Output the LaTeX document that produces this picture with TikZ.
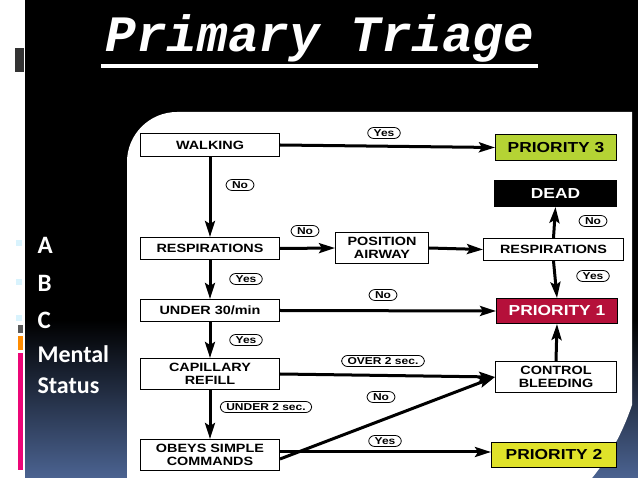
\documentclass[tikz,border=0pt]{standalone}
\usepackage{fontspec}
\setmainfont{Liberation Sans}
\newfontfamily\boxf{Liberation Sans}[FakeStretch=1.2]
\newfontfamily\titlef{Liberation Mono}
\newfontfamily\sidef{Carlito}
\usetikzlibrary{arrows.meta}
\definecolor{pgreen}{HTML}{B5D334}
\definecolor{pred}{HTML}{B5103A}
\definecolor{pyel}{HTML}{E0E22A}
\definecolor{bgblue}{HTML}{4B6391}
\begin{document}
\begin{tikzpicture}[x=1pt,y=-1pt,
  bx/.style={draw=black,line width=1pt,fill=white,font=\boxf\bfseries\fontsize{12}{12.5}\selectfont,align=center,inner sep=0pt,anchor=north west},
  pb/.style={bx,font=\boxf\bfseries\fontsize{14.5}{15}\selectfont},
  lab/.style={draw=black,line width=0.8pt,rounded corners=6pt,fill=white,font=\boxf\bfseries\fontsize{10}{10}\selectfont,inner xsep=6pt,inner ysep=2pt},
  arr/.style={line width=3pt,-{Stealth[length=16pt,width=10pt,inset=3pt]}}]
\useasboundingbox (0,0) rectangle (638,478);
\fill[white] (0,0) rectangle (638,478);
\fill[black] (25,0) rectangle (638,478);
\shade[top color=black,bottom color=bgblue] (25,320) rectangle (638,478);
% left strip decorations
\fill[black!80] (15,48) rectangle (24,72);
\foreach \yy in {243,282,318}{\fill[cyan!15] (16,\yy-3) rectangle (22,\yy+3);}
\fill[gray!70!black] (18,325) rectangle (23,333);
\fill[orange!90!yellow] (18,336) rectangle (23,350);
\fill[magenta!80!red] (18,353) rectangle (23,470);
% panel
\fill[white] (127,478) [rounded corners=50pt] -- (127,112) [sharp corners] -- (632,112) -- (632,405) .. controls (620,440) and (605,462) .. (592,478) -- cycle;
% title
\node[text=white,font=\titlef\bfseries\itshape\fontsize{51}{54}\selectfont] (title) at (320,38) {Primary Triage};
\fill[white] (101,64) rectangle (538,68);
% side text
\foreach \t/\yy/\n in {A/245/sa,B/283/sb,C/320/sc}{\node[text=white,anchor=west,font=\sidef\bfseries\fontsize{25}{26}\selectfont] (\n) at (34,\yy) {\t};}
\node[text=white,anchor=north west,align=left,font=\sidef\bfseries\fontsize{24}{31}\selectfont] (sm) at (34,342) {Mental\\Status};
% boxes
\node[bx,minimum width=139pt,minimum height=23pt] (walk) at (140,133) {WALKING};
\node[pb,fill=pgreen,minimum width=121pt,minimum height=26pt] (p3) at (495,134) {PRIORITY 3};
\node[pb,fill=black,text=white,minimum width=122pt,minimum height=26pt] (dead) at (494,180) {DEAD};
\node[bx,minimum width=139pt,minimum height=22pt] (resl) at (140,237) {RESPIRATIONS};
\node[bx,minimum width=93pt,minimum height=31pt] (pa) at (335,232) {POSITION\\AIRWAY};
\node[bx,minimum width=140pt,minimum height=22pt] (resr) at (483,238) {RESPIRATIONS};
\node[bx,minimum width=139pt,minimum height=22pt] (u30) at (140,299) {UNDER 30/min};
\node[pb,fill=pred,text=white,minimum width=121pt,minimum height=25pt] (p1) at (496,298) {PRIORITY 1};
\node[bx,minimum width=139pt,minimum height=31pt] (cap) at (140,358) {CAPILLARY\\REFILL};
\node[bx,minimum width=121pt,minimum height=31pt] (cb) at (495,361) {CONTROL\\BLEEDING};
\node[bx,minimum width=139pt,minimum height=31pt] (ob) at (140,439) {OBEYS SIMPLE\\COMMANDS};
\node[pb,fill=pyel,minimum width=125pt,minimum height=25pt] (p2) at (491,442) {PRIORITY 2};
% connectors
\draw[arr] (walk.east) -- (p3.west);
\draw[arr] (walk.south) -- (resl.north);
\draw[arr] (resl.east) -- (pa.west);
\draw[arr] (pa.east) -- (resr.west);
\draw[arr] (resr.north) -- (dead.south);
\draw[arr] (resr.south) -- (p1.north);
\draw[arr] (resl.south) -- (u30.north);
\draw[arr] (u30.east) -- (p1.west);
\draw[arr] (u30.south) -- (cap.north);
\draw[arr] (cap.east) -- (cb.west);
\draw[arr] (cb.north) -- (p1.south);
\draw[arr] (cap.south) -- (ob.north);
\draw[arr] ([yshift=-4pt]ob.east) -- (cb.west);
\draw[arr] ([yshift=3pt]ob.east) -- ([yshift=3pt]p2.west);
% labels
\node[lab] (l1) at (384,133) {Yes};
\node[lab] (l2) at (240,185) {No};
\node[lab] (l3) at (305,231) {No};
\node[lab] (l4) at (246,279) {Yes};
\node[lab] (l5) at (383,295) {No};
\node[lab] (l6) at (246,340) {Yes};
\node[lab] (l7) at (383,361) {OVER 2 sec.};
\node[lab] (l8) at (266,407) {UNDER 2 sec.};
\node[lab] (l9) at (381,397) {No};
\node[lab] (l10) at (385,441) {Yes};
\node[lab] (l11) at (593,221) {No};
\node[lab] (l12) at (593,276) {Yes};
\end{tikzpicture}
\end{document}
